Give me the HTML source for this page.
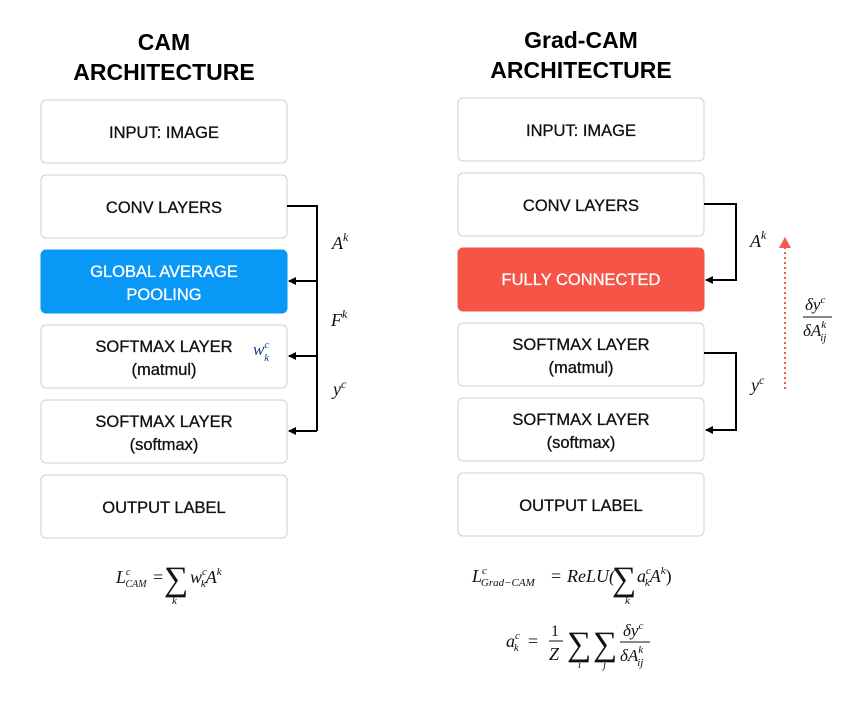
<!DOCTYPE html>
<html><head><meta charset="utf-8"><style>
body{margin:0;background:#fff;}
svg{display:block}
.t{font-family:"Liberation Sans",sans-serif;font-weight:bold;font-size:23px;fill:#000;text-anchor:middle}
.b{font-family:"Liberation Sans",sans-serif;font-size:16.5px;fill:#111;text-anchor:middle;stroke:#111;stroke-width:0.3}
.m{font-family:"Liberation Serif",serif;font-style:italic;fill:#111}
.r{font-family:"Liberation Serif",serif;fill:#111}
</style></head><body>
<svg width="868" height="701" viewBox="0 0 868 701">
<defs><marker id="a" markerWidth="8" markerHeight="8" refX="7" refY="4" orient="auto" markerUnits="userSpaceOnUse"><path d="M0,0 L8,4 L0,8z" fill="#000"/></marker></defs>
<text class="t" x="164" y="50">CAM</text>
<text class="t" x="164" y="80">ARCHITECTURE</text>
<text class="t" x="581" y="48">Grad-CAM</text>
<text class="t" x="581" y="78">ARCHITECTURE</text>
<g stroke="#d0d0d0" stroke-width="1" fill="#fff">
<rect x="41" y="100" width="246" height="63" rx="5"/>
<rect x="41" y="175" width="246" height="63" rx="5"/>
<rect x="41" y="250" width="246" height="63" rx="5" fill="#0a98f7" stroke="#0a98f7"/>
<rect x="41" y="325" width="246" height="63" rx="5"/>
<rect x="41" y="400" width="246" height="63" rx="5"/>
<rect x="41" y="475" width="246" height="63" rx="5"/>
<rect x="458" y="98" width="246" height="63" rx="5"/>
<rect x="458" y="173" width="246" height="63" rx="5"/>
<rect x="458" y="248" width="246" height="63" rx="5" fill="#f65447" stroke="#f65447"/>
<rect x="458" y="323" width="246" height="63" rx="5"/>
<rect x="458" y="398" width="246" height="63" rx="5"/>
<rect x="458" y="473" width="246" height="63" rx="5"/>
</g>
<text class="b" x="164" y="138">INPUT: IMAGE</text>
<text class="b" x="164" y="213">CONV LAYERS</text>
<text class="b" x="164" y="277" style="fill:#fff;stroke:#fff">GLOBAL AVERAGE</text>
<text class="b" x="164" y="300" style="fill:#fff;stroke:#fff">POOLING</text>
<text class="b" x="164" y="352">SOFTMAX LAYER</text>
<text class="b" x="164" y="375">(matmul)</text>
<text class="b" x="164" y="427">SOFTMAX LAYER</text>
<text class="b" x="164" y="450">(softmax)</text>
<text class="b" x="164" y="513">OUTPUT LABEL</text>
<text class="b" x="581" y="136">INPUT: IMAGE</text>
<text class="b" x="581" y="211">CONV LAYERS</text>
<text class="b" x="581" y="285" style="fill:#fff;stroke:#fff">FULLY CONNECTED</text>
<text class="b" x="581" y="350">SOFTMAX LAYER</text>
<text class="b" x="581" y="373">(matmul)</text>
<text class="b" x="581" y="425">SOFTMAX LAYER</text>
<text class="b" x="581" y="448">(softmax)</text>
<text class="b" x="581" y="511">OUTPUT LABEL</text>
<g stroke="#000" stroke-width="2" fill="none">
<path d="M287,206 H317 V431"/>
<path d="M317,281 H289" marker-end="url(#a)"/>
<path d="M317,356 H289" marker-end="url(#a)"/>
<path d="M317,431 H289" marker-end="url(#a)"/>
<path d="M704,204 H736 V280 H706" marker-end="url(#a)"/>
<path d="M704,353 H736 V430 H706" marker-end="url(#a)"/>
</g>
<path d="M785,389 V248" stroke="#f25a4a" stroke-width="2" stroke-dasharray="2,3" fill="none"/>
<path d="M779,248 L785,237 L791,248z" fill="#f25a4a"/>
<text class="m" x="332" y="249" font-size="18">A<tspan font-size="12" dy="-8">k</tspan></text>
<text class="m" x="331" y="326" font-size="18">F<tspan font-size="12" dy="-8">k</tspan></text>
<text class="m" x="333" y="395" font-size="18">y<tspan font-size="12" dy="-7">c</tspan></text>
<text class="m" x="253" y="355" font-size="17" style="fill:#1a3d8a">w<tspan font-size="11" dy="-7">c</tspan><tspan font-size="11" dx="-5" dy="13">k</tspan></text>
<text class="m" x="750" y="247" font-size="18">A<tspan font-size="12" dy="-8">k</tspan></text>
<text class="m" x="751" y="391" font-size="18">y<tspan font-size="12" dy="-7">c</tspan></text>
<text class="m" x="805" y="310" font-size="17">δy<tspan font-size="11" dy="-7">c</tspan></text>
<line x1="803" y1="317" x2="832" y2="317" stroke="#111" stroke-width="1"/>
<text class="m" x="803" y="336" font-size="17">δA<tspan font-size="11" dy="-8">k</tspan><tspan font-size="11" dx="-6" dy="13">ij</tspan></text>
<text class="m" x="116" y="583" font-size="18">L<tspan font-size="10" dy="-8">c</tspan><tspan font-size="10" dx="-5" dy="12">CAM</tspan></text>
<text class="r" x="153" y="583" font-size="18">=</text>
<text class="r" x="164" y="590" font-size="34">∑</text>
<text class="m" x="172" y="604" font-size="11">k</text>
<text class="m" x="190" y="583" font-size="18">w<tspan font-size="11" dy="-8">c</tspan><tspan font-size="11" dx="-6" dy="12">k</tspan><tspan dy="-4">A</tspan><tspan font-size="11" dy="-8">k</tspan></text>
<text class="m" x="472" y="582" font-size="18">L<tspan font-size="11" dy="-8">c</tspan><tspan font-size="11" dx="-6" dy="12">Grad−CAM</tspan></text>
<text class="r" x="551" y="582" font-size="18">=</text>
<text class="m" x="567" y="582" font-size="18">ReLU(</text>
<text class="r" x="612" y="590" font-size="34">∑</text>
<text class="m" x="625" y="604" font-size="11">k</text>
<text class="m" x="637" y="582" font-size="18">a<tspan font-size="11" dy="-8">c</tspan><tspan font-size="11" dx="-6" dy="12">k</tspan><tspan dy="-4">A</tspan><tspan font-size="11" dy="-8">k</tspan><tspan class="r" dy="8" font-style="normal">)</tspan></text>
<text class="m" x="506" y="647" font-size="18">a<tspan font-size="11" dy="-8">c</tspan><tspan font-size="11" dx="-6" dy="12">k</tspan></text>
<text class="r" x="528" y="647" font-size="18">=</text>
<text class="r" x="551" y="636" font-size="16">1</text>
<line x1="549" y1="641" x2="563" y2="641" stroke="#111" stroke-width="1"/>
<text class="m" x="549" y="660" font-size="18">Z</text>
<text class="r" x="567" y="655" font-size="34">∑</text>
<text class="m" x="578" y="668" font-size="11">i</text>
<text class="r" x="593" y="655" font-size="34">∑</text>
<text class="m" x="603" y="668" font-size="11">j</text>
<text class="m" x="623" y="636" font-size="17">δy<tspan font-size="11" dy="-7">c</tspan></text>
<line x1="620" y1="642" x2="650" y2="642" stroke="#111" stroke-width="1"/>
<text class="m" x="620" y="661" font-size="17">δA<tspan font-size="11" dy="-8">k</tspan><tspan font-size="11" dx="-6" dy="13">ij</tspan></text>
</svg>
</body></html>
